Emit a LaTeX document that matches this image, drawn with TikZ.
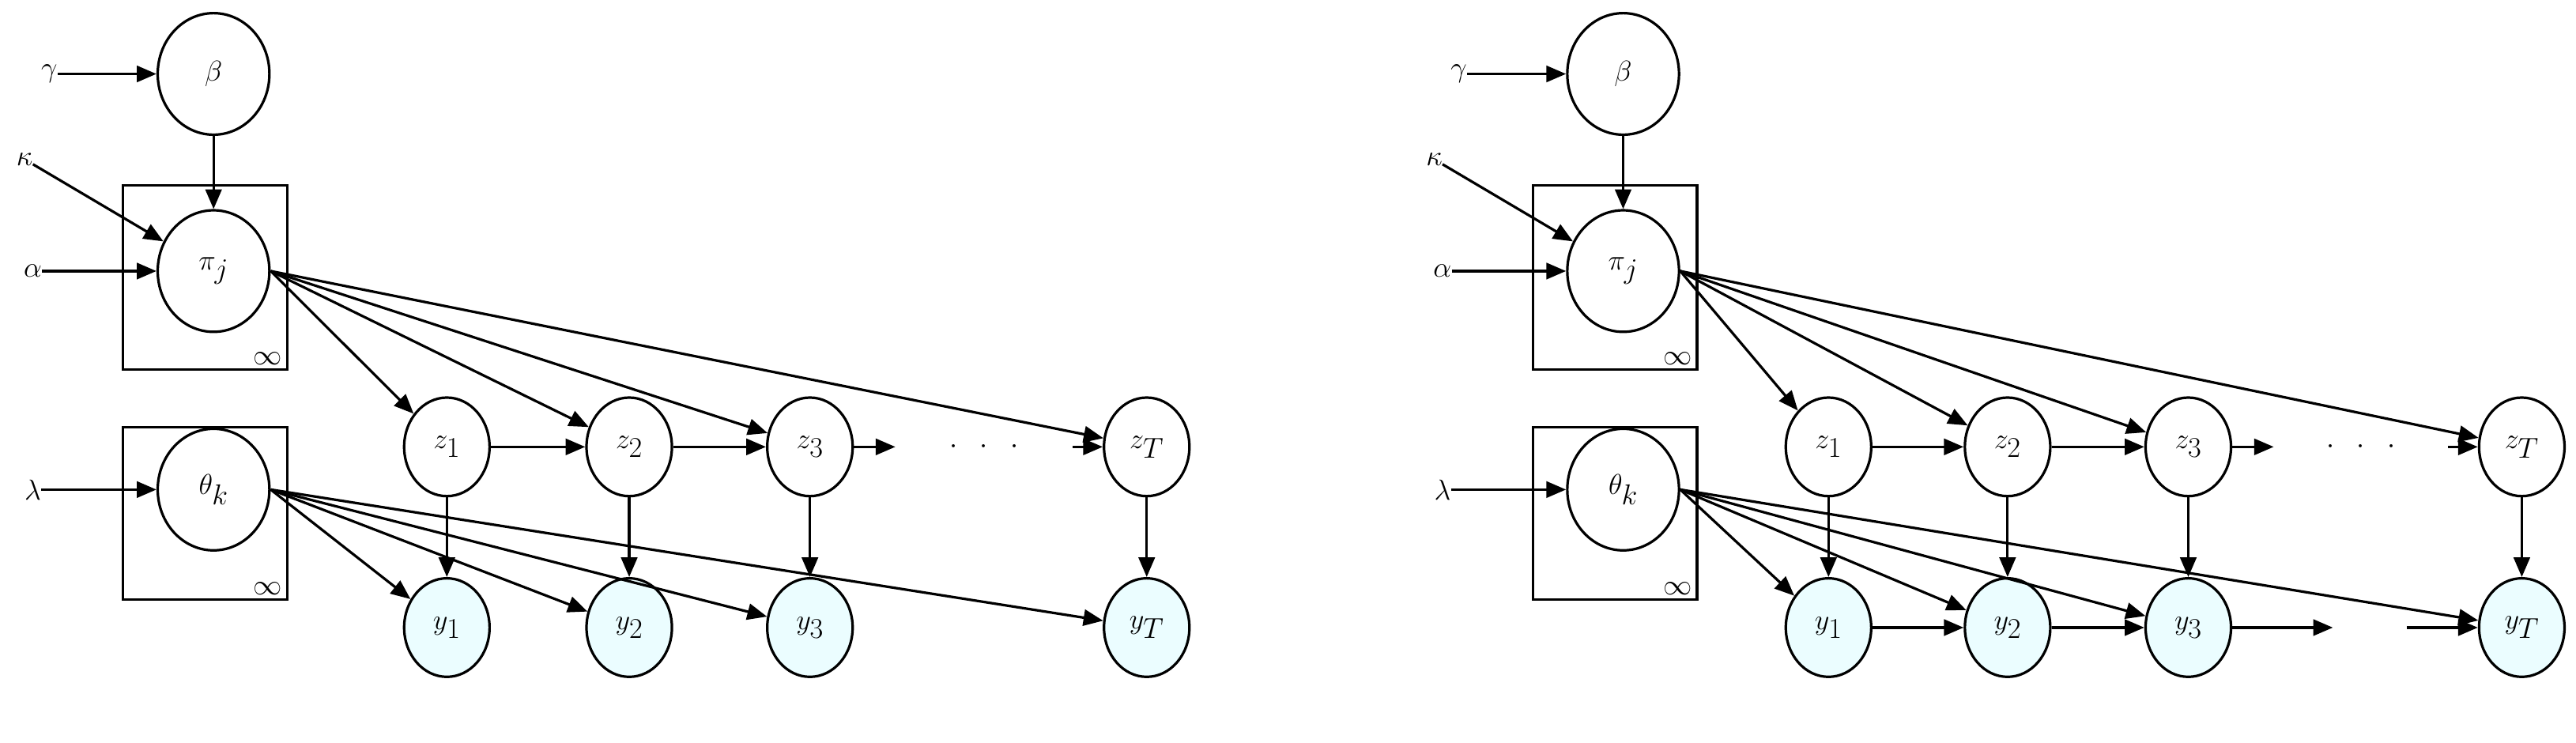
\documentclass[tikz,border=0pt]{standalone}
\usetikzlibrary{shapes.geometric,arrows.meta,calc}
\begin{document}
\begin{tikzpicture}[x=0.5mm,y=-0.5mm,
  every node/.style={font=\fontsize{46}{50}\selectfont},
  big/.style={draw,ellipse,line width=2.2pt,minimum width=34mm,minimum height=37mm,inner sep=0pt},
  sm/.style={draw,ellipse,line width=2.2pt,minimum width=26mm,minimum height=30mm,inner sep=0pt},
  obs/.style={sm,fill=blue!12!cyan!8!white},
  plate/.style={draw,line width=2.2pt},
  ar/.style={line width=2.2pt,-{Triangle[length=17pt,width=14pt]}},
  lab/.style={inner sep=0pt}]
\useasboundingbox (0,0) rectangle (1568,452);
\newcommand\mypanel[7]{%
 \node[lab] (#1g) at (#2+30,45) {$\gamma$};
 \node[big] (#1b) at (#2+130,45) {$\beta$};
 \node[lab] (#1k) at (#2+15,97) {$\kappa$};
 \node[lab] (#1a) at (#2+20,165) {$\alpha$};
 \node[big] (#1p) at (#2+130,165) {$\pi_j$};
 \draw[plate] (#2+75,113) rectangle (#2+175,225);
 \node[lab,anchor=south east] (#1i1) at (#2+172,222) {$\infty$};
 \node[lab] (#1l) at (#2+20,298) {$\lambda$};
 \node[big] (#1t) at (#2+130,298) {$\theta_k$};
 \draw[plate] (#2+75,260) rectangle (#2+175,365);
 \node[lab,anchor=south east] (#1i2) at (#2+172,362) {$\infty$};
 \node[sm] (#1z1) at (#2+#3,272) {$z_1$};
 \node[sm] (#1z2) at (#2+#4,272) {$z_2$};
 \node[sm] (#1z3) at (#2+#5,272) {$z_3$};
 \node[sm] (#1zT) at (#2+#6,272) {$z_T$};
 \node[obs] (#1y1) at (#2+#3,382) {$y_1$};
 \node[obs] (#1y2) at (#2+#4,382) {$y_2$};
 \node[obs] (#1y3) at (#2+#5,382) {$y_3$};
 \node[obs] (#1yT) at (#2+#6,382) {$y_T$};
 \draw[ar] (#1g) -- (#1b);
 \draw[ar] (#1b) -- (#1p);
 \draw[ar] (#1k) -- (#1p);
 \draw[ar] (#1a) -- (#1p);
 \draw[ar] (#1l) -- (#1t);
 \foreach \j in {1,2,3,T}{
   \draw[ar] (#1p.east) -- (#1z\j);
   \draw[ar] (#1t.east) -- (#1y\j);
   \draw[ar] (#1z\j) -- (#1y\j);}
 \draw[ar] (#1z1) -- (#1z2);
 \draw[ar] (#1z2) -- (#1z3);
 \coordinate (#1d1) at (#2+#5+52,272);
 \coordinate (#1d2) at (#2+#6-45,272);
 \draw[ar] (#1z3) -- (#1d1);
 \node[lab] (#1dots) at ($(#1d1)!0.5!(#1d2)$) {$\cdot\ \cdot\ \cdot$};
 \draw[ar] (#1d2) -- (#1zT);
 #7}
\mypanel{L}{0}{272}{383}{493}{698}{}
\mypanel{R}{858}{255}{364}{474}{677}{%
 \coordinate (Re1) at (858+474+88,382);
 \coordinate (Re2) at (858+677-70,382);
 \draw[ar] (Ry1) -- (Ry2);
 \draw[ar] (Ry2) -- (Ry3);
 \draw[ar] (Ry3) -- (Re1);
 \draw[ar] (Re2) -- (RyT);}
\end{tikzpicture}
\end{document}
